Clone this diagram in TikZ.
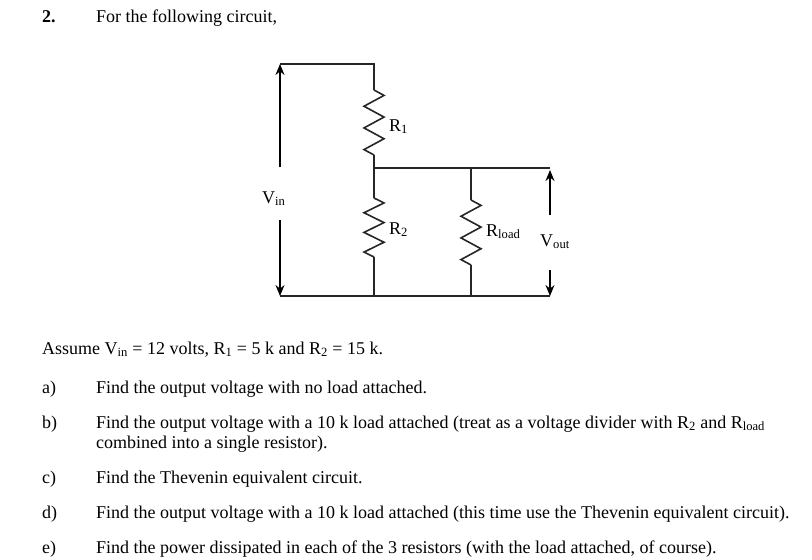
\documentclass[tikz,border=0pt]{standalone}
\usepackage{fontspec}
\setmainfont{Liberation Serif}
\usetikzlibrary{arrows.meta}
\begin{document}
\newcommand{\myres}[3]{% x, y1, y2
  \draw[wire] (#1,#2) -- ++(10,{(#3-#2)/12}) -- ++(-20,{(#3-#2)/6}) -- ++(20,{(#3-#2)/6}) -- ++(-20,{(#3-#2)/6}) -- ++(20,{(#3-#2)/6}) -- ++(-20,{(#3-#2)/6}) -- (#1,#3);}
\begin{tikzpicture}[x=1pt,y=-1pt,
  wire/.style={line width=1.6pt,black!85},
  arr/.style={line width=1.6pt,-{Stealth[length=11pt,width=9pt]}},
  txt/.style={anchor=base west,inner sep=0,font=\fontsize{18}{20}\selectfont}]
\useasboundingbox (0,0) rectangle (812,560);
% wires
\draw[wire] (280,64) -- (374,64) -- (374,90);
\myres{374}{90}{155}
\draw[wire] (374,155) -- (374,198);
\myres{374}{198}{257}
\draw[wire] (374,257) -- (374,296);
\draw[wire] (374,168) -- (550,168);
\draw[wire] (471,168) -- (471,200);
\myres{471}{200}{265}
\draw[wire] (471,265) -- (471,296);
\draw[wire] (280,296) -- (550,296);
% arrows
\draw[arr] (280,167) -- (280,64);
\draw[arr] (280,220) -- (280,296);
\draw[arr] (550,215) -- (550,170);
\draw[arr] (550,270) -- (550,296);
% labels
\node[txt] (vin) at (262,203) {V\textsubscript{in}};
\node[txt] (r1) at (389,131) {R\textsubscript{1}};
\node[txt] (r2) at (389,234) {R\textsubscript{2}};
\node[txt] (rl) at (486,236) {R\textsubscript{load}};
\node[txt] (vo) at (540,246) {V\textsubscript{out}};
% text
\node[txt,font=\fontsize{18}{20}\selectfont\bfseries] at (42,22) {2.};
\node[txt] at (96,22) {For the following circuit,};
\node[txt] at (42,354) {Assume V\textsubscript{in} = 12 volts, R\textsubscript{1} = 5 k and R\textsubscript{2} = 15 k.};
\node[txt] at (42,393) {a)};
\node[txt] at (96,393) {Find the output voltage with no load attached.};
\node[txt] at (42,428) {b)};
\node[txt] at (96,428) {Find the output voltage with a 10 k load attached (treat as a voltage divider with R\textsubscript{2} and R\textsubscript{load}};
\node[txt] at (96,448) {combined into a single resistor).};
\node[txt] at (42,483) {c)};
\node[txt] at (96,483) {Find the Thevenin equivalent circuit.};
\node[txt] at (42,518) {d)};
\node[txt] at (96,518) {Find the output voltage with a 10 k load attached (this time use the Thevenin equivalent circuit).};
\node[txt] at (42,553) {e)};
\node[txt] at (96,553) {Find the power dissipated in each of the 3 resistors (with the load attached, of course).};
\end{tikzpicture}
\end{document}
